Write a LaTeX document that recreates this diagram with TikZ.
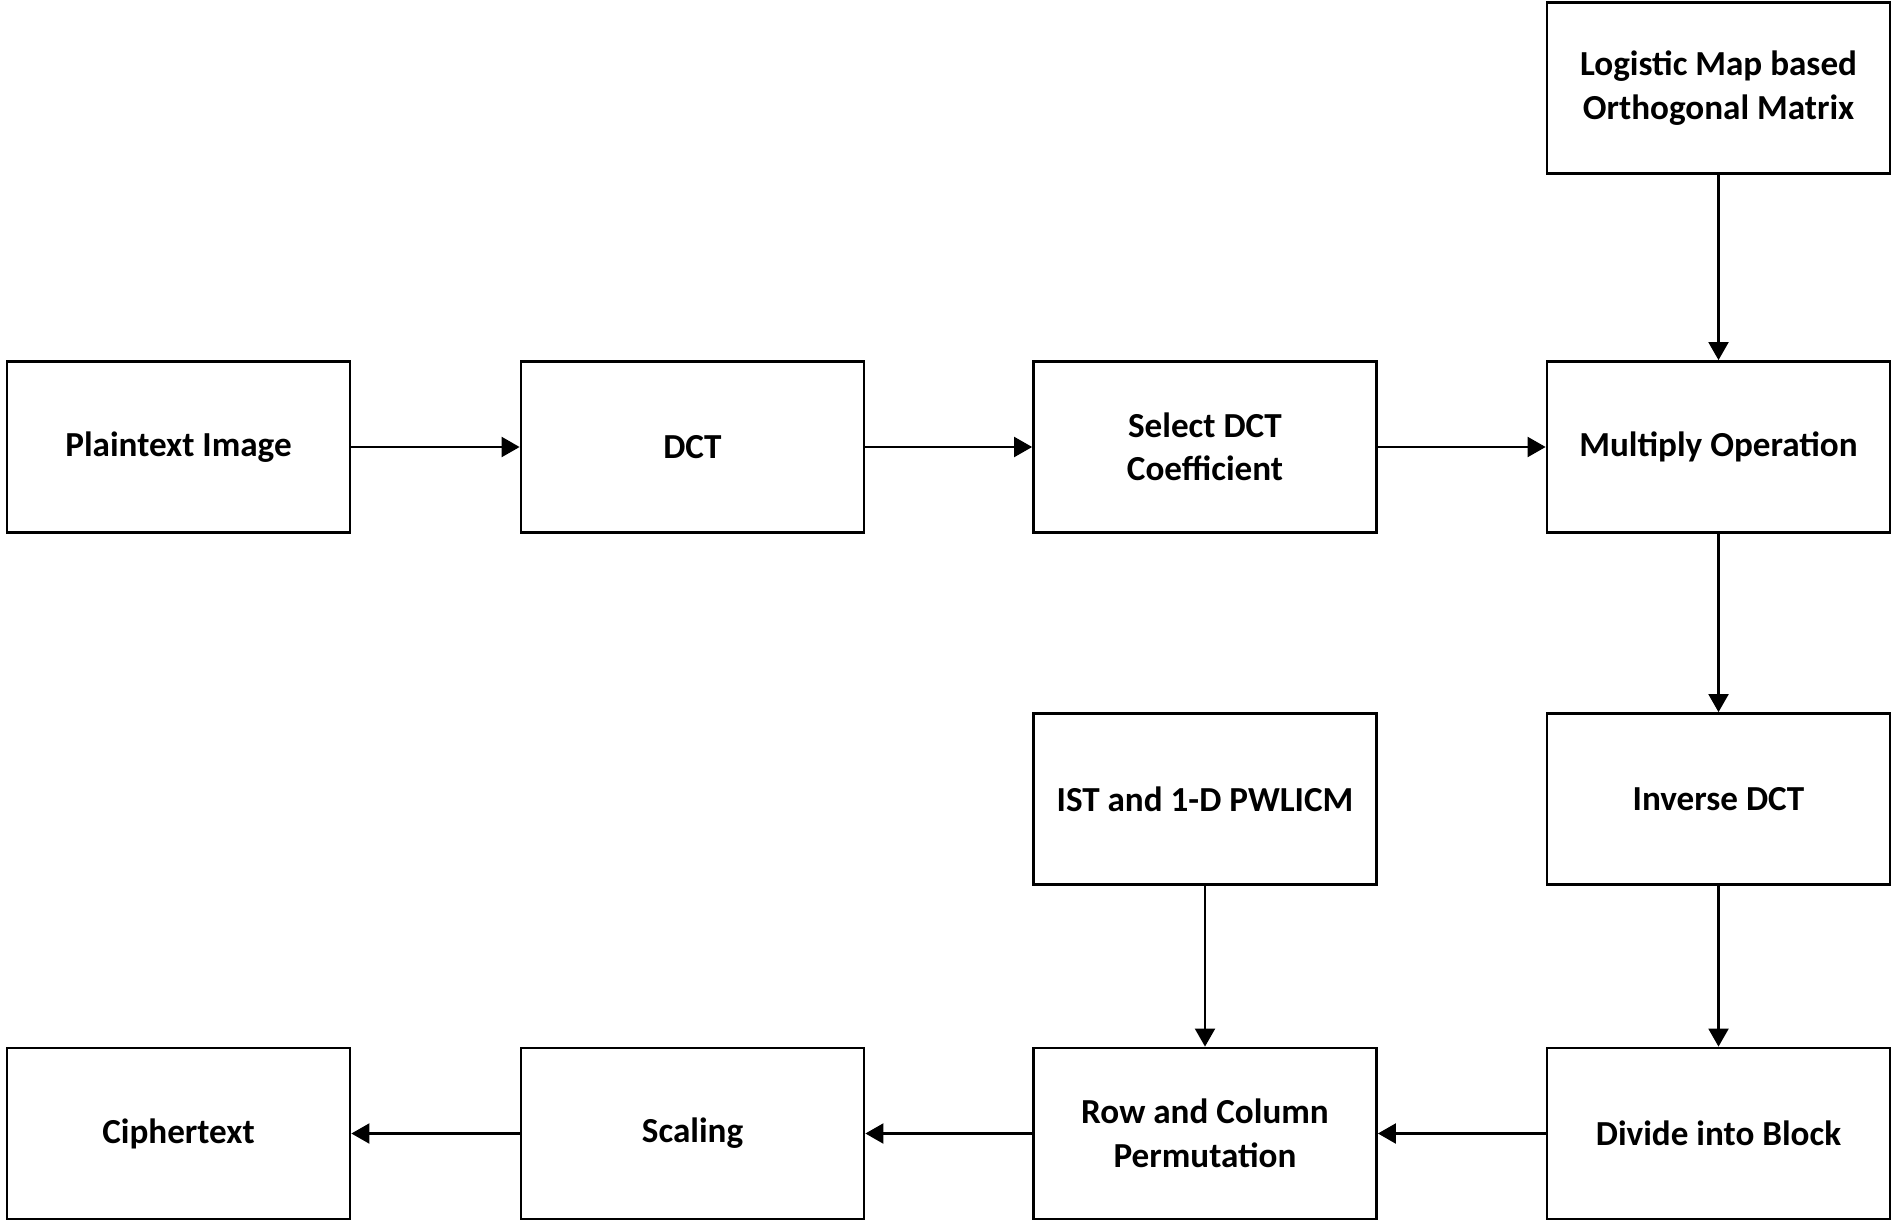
\documentclass[tikz,border=0pt]{standalone}
\usepackage{fontspec}
\setmainfont{Carlito}
\usepackage{tikz}
\usetikzlibrary{arrows.meta}
\tikzstyle{procbox} = [draw=black, fill=white, line width=0.8pt,
rectangle, minimum width=3.43cm, minimum height=1.71cm, inner sep=2pt,
align=center, font=\fontsize{10}{12.4}\selectfont\bfseries]
\tikzstyle{flow} = [draw=black, line width=0.6pt, -{Triangle[length=0.18cm, width=0.2cm]}]

\begin{document}
\begin{tikzpicture}
		\useasboundingbox (0,0) rectangle (19,12.26);
		% top right
		\node [procbox] (logistic) at (17.185,11.38) {Logistic Map based\\Orthogonal Matrix};
		% second row
		\node [procbox] (plain) at (1.785,7.79) {Plaintext Image};
		\node [procbox] (dct) at (6.925,7.79) {DCT};
		\node [procbox] (select) at (12.05,7.79) {Select DCT\\Coefficient};
		\node [procbox] (multiply) at (17.185,7.79) {Multiply Operation};
		% third row
		\node [procbox] (ist) at (12.05,4.27) {IST and 1-D PWLICM};
		\node [procbox] (inverse) at (17.185,4.27) {Inverse DCT};
		% bottom row
		\node [procbox] (cipher) at (1.785,0.925) {Ciphertext};
		\node [procbox] (scaling) at (6.925,0.925) {Scaling};
		\node [procbox] (perm) at (12.05,0.925) {Row and Column\\Permutation};
		\node [procbox] (divide) at (17.185,0.925) {Divide into Block};
		% connectors
		\draw [flow] (plain) -- (dct);
		\draw [flow] (dct) -- (select);
		\draw [flow] (select) -- (multiply);
		\draw [flow] (logistic) -- (multiply);
		\draw [flow] (multiply) -- (inverse);
		\draw [flow] (inverse) -- (divide);
		\draw [flow] (divide) -- (perm);
		\draw [flow] (ist) -- (perm);
		\draw [flow] (perm) -- (scaling);
		\draw [flow] (scaling) -- (cipher);
\end{tikzpicture}
\end{document}
